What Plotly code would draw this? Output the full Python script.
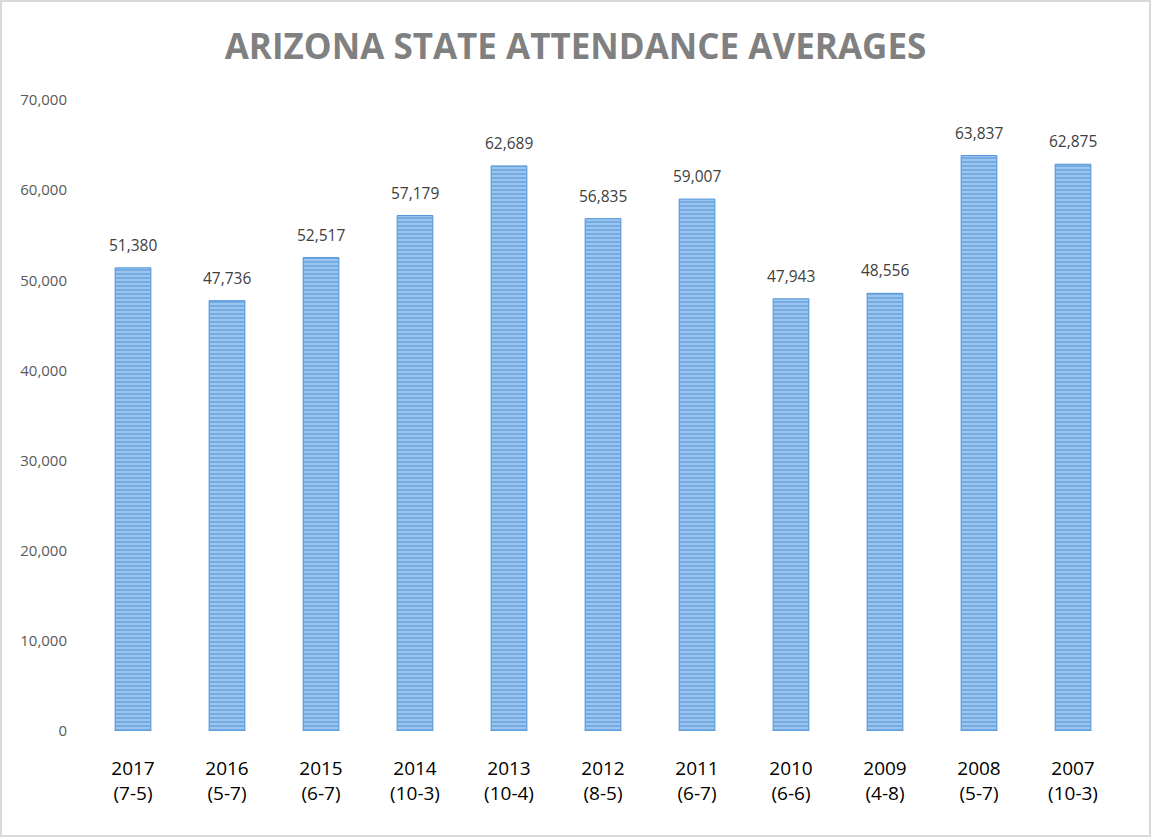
import plotly.graph_objects as go

years = ["2017", "2016", "2015", "2014", "2013", "2012", "2011", "2010", "2009", "2008", "2007"]
records = ["(7-5)", "(5-7)", "(6-7)", "(10-3)", "(10-4)", "(8-5)", "(6-7)", "(6-6)", "(4-8)", "(5-7)", "(10-3)"]
attendance = [51380, 47736, 52517, 57179, 62689, 56835, 59007, 47943, 48556, 63837, 62875]
y_ticks = [0, 10000, 20000, 30000, 40000, 50000, 60000, 70000]

categories = [f"{y}<br>{r}" for y, r in zip(years, records)]

W, H = 1151, 837
ML, MR, MT, MB = 86, 31, 100, 106

fig = go.Figure(go.Bar(
    x=categories,
    y=attendance,
    marker=dict(
        color="#8DBBE8",
        line=dict(color="#4F93D8", width=1),
        pattern=dict(shape="-", fgcolor="#4A8FD6", bgcolor="#9FC8F0", size=4, solidity=0.55, fillmode="overlay"),
    ),
))

for c, v in zip(categories, attendance):
    fig.add_annotation(x=c, y=v, text=f"{v:,}", showarrow=False, yanchor="bottom", yshift=10,
                       font=dict(family="Open Sans", size=15.5, color="#404040"))

pw = W - ML - MR
ph = H - MT - MB
fig.add_shape(type="rect", xref="paper", yref="paper",
              x0=(1 - ML) / pw, x1=(W - 1 - ML) / pw,
              y0=-(H - 1 - MT - ph) / ph, y1=1 + (MT - 1) / ph,
              line=dict(color="#D9D9D9", width=2), fillcolor="rgba(0,0,0,0)", layer="below")

fig.update_layout(
    width=W, height=H,
    margin=dict(l=ML, r=MR, t=MT, b=MB),
    paper_bgcolor="white", plot_bgcolor="white",
    bargap=0.62,
    showlegend=False,
    title=dict(text="<b>ARIZONA STATE ATTENDANCE AVERAGES</b>", x=0.5, xanchor="center",
               y=1 - 47 / H, yanchor="middle",
               font=dict(family="Open Sans", size=35, color="#808080")),
    xaxis=dict(showgrid=False, showline=False, ticks="", ticklabelstandoff=24,
               tickfont=dict(family="Open Sans", size=19, color="#000000")),
    yaxis=dict(range=[0, 70000], tickvals=y_ticks, ticktext=[f"{t:,}" for t in y_ticks],
               showgrid=False, zeroline=False, showline=False, ticks="",
               ticklabelstandoff=18,
               tickfont=dict(family="Open Sans", size=15, color="#595959")),
)

fig.write_html("out.html")
